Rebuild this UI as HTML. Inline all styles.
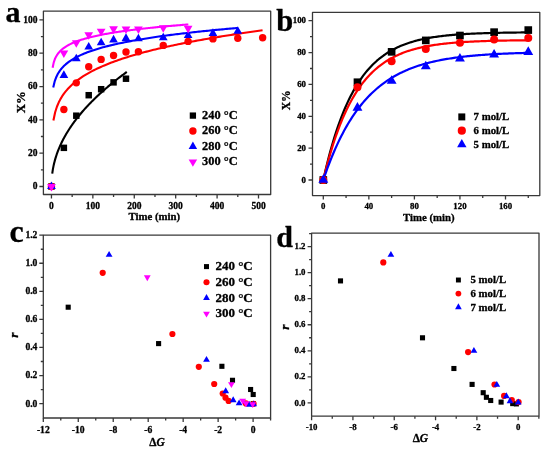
<!DOCTYPE html>
<html><head><meta charset="utf-8"><style>html,body{margin:0;padding:0;background:#fff;overflow:hidden;}svg{display:block;}</style></head>
<body>
<svg width="550" height="452" viewBox="0 0 550 452" font-family='"Liberation Serif", "Times New Roman", serif' font-weight="bold" stroke-linejoin="round">
<style>text{stroke:#000;stroke-width:0.3px;}</style>
<rect width="550" height="452" fill="#fff"/>
<rect x="43.4" y="11.2" width="227.3" height="183.3" fill="none" stroke="#383838" stroke-width="1.3"/>
<path d="M51.45 194.5v4M92.86 194.5v4M134.27 194.5v4M175.68 194.5v4M217.09 194.5v4M258.5 194.5v4M72.16 194.5v2.5M113.56 194.5v2.5M154.98 194.5v2.5M196.38 194.5v2.5M237.8 194.5v2.5M43.4 186.5h-4M43.4 153.18h-4M43.4 119.86h-4M43.4 86.54h-4M43.4 53.22h-4M43.4 19.9h-4M43.4 169.84h-2.5M43.4 136.52h-2.5M43.4 103.2h-2.5M43.4 69.88h-2.5M43.4 36.56h-2.5" stroke="#383838" stroke-width="1.3" fill="none"/>
<text x="51.45" y="209" font-size="9.5" text-anchor="middle">0</text>
<text x="92.86" y="209" font-size="9.5" text-anchor="middle">100</text>
<text x="134.27" y="209" font-size="9.5" text-anchor="middle">200</text>
<text x="175.68" y="209" font-size="9.5" text-anchor="middle">300</text>
<text x="217.09" y="209" font-size="9.5" text-anchor="middle">400</text>
<text x="258.5" y="209" font-size="9.5" text-anchor="middle">500</text>
<text x="37.6" y="189" font-size="9.5" text-anchor="end">0</text>
<text x="37.6" y="156" font-size="9.5" text-anchor="end">20</text>
<text x="37.6" y="123" font-size="9.5" text-anchor="end">40</text>
<text x="37.6" y="89" font-size="9.5" text-anchor="end">60</text>
<text x="37.6" y="56" font-size="9.5" text-anchor="end">80</text>
<text x="37.6" y="23" font-size="9.5" text-anchor="end">100</text>
<polyline points="52.24,173.59 52.86,169.41 53.49,166.13 54.12,163.35 54.74,160.89 55.37,158.66 56,156.61 56.62,154.71 57.25,152.92 57.87,151.23 58.5,149.62 59.13,148.09 59.75,146.62 60.38,145.21 61.01,143.85 61.63,142.53 62.26,141.26 62.89,140.02 63.51,138.82 64.14,137.65 64.76,136.51 65.39,135.4 66.02,134.32 66.64,133.25 67.27,132.21 67.9,131.2 68.52,130.2 69.15,129.22 69.78,128.26 70.4,127.31 71.03,126.39 71.65,125.47 72.28,124.57 72.91,123.69 73.53,122.82 74.16,121.96 74.79,121.12 75.41,120.28 76.04,119.46 76.67,118.65 77.29,117.85 77.92,117.05 78.54,116.27 79.17,115.5 79.8,114.74 80.42,113.98 81.05,113.24 81.68,112.5 82.3,111.77 82.93,111.05 83.56,110.33 84.18,109.63 84.81,108.92 85.43,108.23 86.06,107.54 86.69,106.86 87.31,106.19 87.94,105.52 88.57,104.86 89.19,104.2 89.82,103.55 90.45,102.91 91.07,102.27 91.7,101.63 92.32,101 92.95,100.38 93.58,99.76 94.2,99.14 94.83,98.53 95.46,97.93 96.08,97.33 96.71,96.73 97.34,96.14 97.96,95.55 98.59,94.97 99.21,94.39 99.84,93.81 100.47,93.24 101.09,92.67 101.72,92.11 102.35,91.54 102.97,90.99 103.6,90.43 104.23,89.88 104.85,89.34 105.48,88.79 106.1,88.25 106.73,87.71 107.36,87.18 107.98,86.65 108.61,86.12 109.24,85.6 109.86,85.07 110.49,84.56 111.12,84.04 111.74,83.53 112.37,83.02 112.99,82.51 113.62,82 114.25,81.5 114.87,81 115.5,80.5 116.13,80.01 116.75,79.52 117.38,79.03 118.01,78.54 118.63,78.05 119.26,77.57 119.88,77.09 120.51,76.61 121.14,76.14 121.76,75.66 122.39,75.19 123.02,74.72 123.64,74.26 124.27,73.79 124.9,73.33 125.52,72.87 126.15,72.41 126.77,71.95" fill="none" stroke="#000000" stroke-width="2.1" stroke-linejoin="round" stroke-linecap="butt"/>
<polyline points="53.4,120.53 55.15,112.25 56.91,106.75 58.67,102.55 60.43,99.12 62.18,96.2 63.94,93.65 65.7,91.37 67.46,89.31 69.22,87.43 70.97,85.7 72.73,84.09 74.49,82.58 76.25,81.17 78,79.83 79.76,78.57 81.52,77.37 83.28,76.22 85.03,75.13 86.79,74.08 88.55,73.07 90.31,72.1 92.06,71.16 93.82,70.26 95.58,69.39 97.34,68.55 99.1,67.73 100.85,66.93 102.61,66.16 104.37,65.41 106.13,64.68 107.88,63.97 109.64,63.28 111.4,62.6 113.16,61.94 114.91,61.3 116.67,60.67 118.43,60.05 120.19,59.45 121.95,58.86 123.7,58.28 125.46,57.71 127.22,57.15 128.98,56.61 130.73,56.07 132.49,55.54 134.25,55.02 136.01,54.52 137.76,54.01 139.52,53.52 141.28,53.04 143.04,52.56 144.79,52.09 146.55,51.63 148.31,51.18 150.07,50.73 151.83,50.29 153.58,49.85 155.34,49.42 157.1,49 158.86,48.58 160.61,48.17 162.37,47.76 164.13,47.36 165.89,46.96 167.64,46.57 169.4,46.18 171.16,45.8 172.92,45.42 174.68,45.05 176.43,44.68 178.19,44.32 179.95,43.96 181.71,43.6 183.46,43.25 185.22,42.9 186.98,42.55 188.74,42.21 190.49,41.87 192.25,41.54 194.01,41.21 195.77,40.88 197.52,40.56 199.28,40.24 201.04,39.92 202.8,39.6 204.56,39.29 206.31,38.98 208.07,38.67 209.83,38.37 211.59,38.07 213.34,37.77 215.1,37.48 216.86,37.18 218.62,36.89 220.37,36.6 222.13,36.32 223.89,36.03 225.65,35.75 227.4,35.48 229.16,35.2 230.92,34.92 232.68,34.65 234.44,34.38 236.19,34.12 237.95,33.85 239.71,33.59 241.47,33.32 243.22,33.07 244.98,32.81 246.74,32.55 248.5,32.3 250.25,32.05 252.01,31.8 253.77,31.55 255.53,31.3 257.29,31.06 259.04,30.81 260.8,30.57 262.56,30.33" fill="none" stroke="#ff0000" stroke-width="2.1" stroke-linejoin="round" stroke-linecap="butt"/>
<polyline points="53.23,87.59 54.78,81.09 56.33,76.92 57.88,73.81 59.44,71.32 60.99,69.22 62.54,67.42 64.09,65.82 65.64,64.4 67.19,63.11 68.74,61.92 70.3,60.83 71.85,59.82 73.4,58.88 74.95,57.99 76.5,57.15 78.05,56.36 79.6,55.61 81.15,54.9 82.71,54.21 84.26,53.56 85.81,52.94 87.36,52.34 88.91,51.76 90.46,51.21 92.01,50.67 93.56,50.15 95.12,49.65 96.67,49.16 98.22,48.69 99.77,48.24 101.32,47.79 102.87,47.36 104.42,46.94 105.98,46.53 107.53,46.13 109.08,45.74 110.63,45.36 112.18,44.99 113.73,44.63 115.28,44.28 116.83,43.93 118.39,43.59 119.94,43.26 121.49,42.93 123.04,42.61 124.59,42.3 126.14,41.99 127.69,41.69 129.24,41.39 130.8,41.1 132.35,40.81 133.9,40.53 135.45,40.26 137,39.99 138.55,39.72 140.1,39.46 141.66,39.2 143.21,38.94 144.76,38.69 146.31,38.44 147.86,38.2 149.41,37.96 150.96,37.72 152.51,37.49 154.07,37.26 155.62,37.03 157.17,36.81 158.72,36.58 160.27,36.37 161.82,36.15 163.37,35.94 164.92,35.73 166.48,35.52 168.03,35.31 169.58,35.11 171.13,34.91 172.68,34.71 174.23,34.52 175.78,34.32 177.34,34.13 178.89,33.94 180.44,33.75 181.99,33.57 183.54,33.38 185.09,33.2 186.64,33.02 188.19,32.85 189.75,32.67 191.3,32.5 192.85,32.32 194.4,32.15 195.95,31.98 197.5,31.82 199.05,31.65 200.6,31.49 202.16,31.32 203.71,31.16 205.26,31 206.81,30.84 208.36,30.69 209.91,30.53 211.46,30.38 213.02,30.22 214.57,30.07 216.12,29.92 217.67,29.77 219.22,29.62 220.77,29.48 222.32,29.33 223.87,29.19 225.43,29.05 226.98,28.9 228.53,28.76 230.08,28.62 231.63,28.48 233.18,28.35 234.73,28.21 236.29,28.07 237.84,27.94" fill="none" stroke="#0000ff" stroke-width="2.1" stroke-linejoin="round" stroke-linecap="butt"/>
<polyline points="52.61,67.8 53.75,62.37 54.89,59.07 56.03,56.67 57.17,54.77 58.31,53.2 59.45,51.86 60.59,50.68 61.73,49.64 62.88,48.7 64.02,47.84 65.16,47.05 66.3,46.32 67.44,45.64 68.58,45.01 69.72,44.41 70.86,43.85 72,43.32 73.14,42.81 74.28,42.33 75.42,41.87 76.56,41.43 77.7,41.01 78.85,40.61 79.99,40.22 81.13,39.84 82.27,39.48 83.41,39.13 84.55,38.8 85.69,38.47 86.83,38.15 87.97,37.85 89.11,37.55 90.25,37.26 91.39,36.98 92.53,36.7 93.67,36.43 94.81,36.17 95.96,35.92 97.1,35.67 98.24,35.42 99.38,35.19 100.52,34.96 101.66,34.73 102.8,34.51 103.94,34.29 105.08,34.07 106.22,33.86 107.36,33.66 108.5,33.46 109.64,33.26 110.78,33.07 111.93,32.88 113.07,32.69 114.21,32.5 115.35,32.32 116.49,32.14 117.63,31.97 118.77,31.8 119.91,31.63 121.05,31.46 122.19,31.3 123.33,31.13 124.47,30.97 125.61,30.82 126.75,30.66 127.89,30.51 129.04,30.36 130.18,30.21 131.32,30.06 132.46,29.92 133.6,29.78 134.74,29.63 135.88,29.5 137.02,29.36 138.16,29.22 139.3,29.09 140.44,28.96 141.58,28.82 142.72,28.69 143.86,28.57 145.01,28.44 146.15,28.32 147.29,28.19 148.43,28.07 149.57,27.95 150.71,27.83 151.85,27.71 152.99,27.59 154.13,27.48 155.27,27.36 156.41,27.25 157.55,27.14 158.69,27.03 159.83,26.92 160.97,26.81 162.12,26.7 163.26,26.59 164.4,26.49 165.54,26.38 166.68,26.28 167.82,26.17 168.96,26.07 170.1,25.97 171.24,25.87 172.38,25.77 173.52,25.67 174.66,25.58 175.8,25.48 176.94,25.38 178.09,25.29 179.23,25.19 180.37,25.1 181.51,25.01 182.65,24.92 183.79,24.82 184.93,24.73 186.07,24.64 187.21,24.56 188.35,24.47" fill="none" stroke="#ff00ff" stroke-width="2.1" stroke-linejoin="round" stroke-linecap="butt"/>
<rect x="48.22" y="183.27" width="6.46" height="6.46" fill="#000000"/>
<rect x="60.64" y="144.62" width="6.46" height="6.46" fill="#000000"/>
<rect x="73.07" y="112.47" width="6.46" height="6.46" fill="#000000"/>
<rect x="85.49" y="91.97" width="6.46" height="6.46" fill="#000000"/>
<rect x="97.91" y="85.98" width="6.46" height="6.46" fill="#000000"/>
<rect x="110.33" y="79.14" width="6.46" height="6.46" fill="#000000"/>
<rect x="122.76" y="75.48" width="6.46" height="6.46" fill="#000000"/>
<circle cx="51.45" cy="186.5" r="3.7" fill="#ff0000"/>
<circle cx="63.87" cy="109.53" r="3.7" fill="#ff0000"/>
<circle cx="76.3" cy="82.87" r="3.7" fill="#ff0000"/>
<circle cx="88.72" cy="66.71" r="3.7" fill="#ff0000"/>
<circle cx="101.14" cy="59.38" r="3.7" fill="#ff0000"/>
<circle cx="113.56" cy="55.55" r="3.7" fill="#ff0000"/>
<circle cx="125.99" cy="52.05" r="3.7" fill="#ff0000"/>
<circle cx="138.41" cy="51.72" r="3.7" fill="#ff0000"/>
<circle cx="163.26" cy="45.39" r="3.7" fill="#ff0000"/>
<circle cx="188.1" cy="41.39" r="3.7" fill="#ff0000"/>
<circle cx="212.95" cy="38.89" r="3.7" fill="#ff0000"/>
<circle cx="237.8" cy="38.23" r="3.7" fill="#ff0000"/>
<circle cx="262.64" cy="37.73" r="3.7" fill="#ff0000"/>
<polygon points="51.45,181.45 47.08,189.02 55.82,189.02" fill="#0000ff"/>
<polygon points="63.87,70.33 59.5,77.9 68.24,77.9" fill="#0000ff"/>
<polygon points="76.3,53.67 71.93,61.24 80.67,61.24" fill="#0000ff"/>
<polygon points="88.72,42.01 84.35,49.58 93.09,49.58" fill="#0000ff"/>
<polygon points="101.14,37.68 96.77,45.25 105.51,45.25" fill="#0000ff"/>
<polygon points="113.56,34.85 109.19,42.42 117.94,42.42" fill="#0000ff"/>
<polygon points="125.99,33.35 121.62,40.92 130.36,40.92" fill="#0000ff"/>
<polygon points="138.41,33.68 134.04,41.25 142.78,41.25" fill="#0000ff"/>
<polygon points="163.26,32.68 158.89,40.25 167.63,40.25" fill="#0000ff"/>
<polygon points="188.1,30.51 183.73,38.08 192.47,38.08" fill="#0000ff"/>
<polygon points="212.95,28.35 208.58,35.92 217.32,35.92" fill="#0000ff"/>
<polygon points="237.8,26.18 233.43,33.75 242.17,33.75" fill="#0000ff"/>
<polygon points="51.45,191.55 47.08,183.98 55.82,183.98" fill="#ff00ff"/>
<polygon points="63.87,58.03 59.5,50.46 68.24,50.46" fill="#ff00ff"/>
<polygon points="76.3,47.87 71.93,40.3 80.67,40.3" fill="#ff00ff"/>
<polygon points="88.72,39.87 84.35,32.3 93.09,32.3" fill="#ff00ff"/>
<polygon points="101.14,36.21 96.77,28.64 105.51,28.64" fill="#ff00ff"/>
<polygon points="113.56,33.88 109.19,26.31 117.94,26.31" fill="#ff00ff"/>
<polygon points="125.99,34.04 121.62,26.47 130.36,26.47" fill="#ff00ff"/>
<polygon points="138.41,34.04 134.04,26.47 142.78,26.47" fill="#ff00ff"/>
<polygon points="163.26,32.71 158.89,25.14 167.63,25.14" fill="#ff00ff"/>
<polygon points="188.1,33.38 183.73,25.81 192.47,25.81" fill="#ff00ff"/>
<rect x="189.75" y="112.45" width="6.29" height="6.29" fill="#000000"/>
<text x="202.0" y="118.8" font-size="12.4">240 °C</text>
<circle cx="192.9" cy="131.05" r="3.7" fill="#ff0000"/>
<text x="202.0" y="134.25" font-size="12.4">260 °C</text>
<polygon points="192.9,141.59 188.65,148.96 197.16,148.96" fill="#0000ff"/>
<text x="202.0" y="149.7" font-size="12.4">280 °C</text>
<polygon points="192.9,166.86 188.65,159.49 197.16,159.49" fill="#ff00ff"/>
<text x="202.0" y="165.15" font-size="12.4">300 °C</text>
<text x="154.3" y="219.6" font-size="10.8" text-anchor="middle">Time (min)</text>
<text transform="translate(25.0 102.2) rotate(-90)" font-size="12.8" text-anchor="middle">X%</text>
<text x="5.5" y="22.3" font-size="30">a</text>
<rect x="312.5" y="12.4" width="227.3" height="183.2" fill="none" stroke="#383838" stroke-width="1.3"/>
<path d="M323.3 195.6v4M368.85 195.6v4M414.4 195.6v4M459.95 195.6v4M505.5 195.6v4M346.07 195.6v2.5M391.62 195.6v2.5M437.18 195.6v2.5M482.73 195.6v2.5M528.27 195.6v2.5M312.5 180h-4M312.5 148.14h-4M312.5 116.28h-4M312.5 84.42h-4M312.5 52.56h-4M312.5 20.7h-4M312.5 164.07h-2.5M312.5 132.21h-2.5M312.5 100.35h-2.5M312.5 68.49h-2.5M312.5 36.63h-2.5" stroke="#383838" stroke-width="1.3" fill="none"/>
<text x="323.3" y="209" font-size="8.8" text-anchor="middle">0</text>
<text x="368.85" y="209" font-size="8.8" text-anchor="middle">40</text>
<text x="414.4" y="209" font-size="8.8" text-anchor="middle">80</text>
<text x="459.95" y="209" font-size="8.8" text-anchor="middle">120</text>
<text x="505.5" y="209" font-size="8.8" text-anchor="middle">160</text>
<text x="306" y="183" font-size="8.8" text-anchor="end">0</text>
<text x="306" y="151" font-size="8.8" text-anchor="end">20</text>
<text x="306" y="119" font-size="8.8" text-anchor="end">40</text>
<text x="306" y="87" font-size="8.8" text-anchor="end">60</text>
<text x="306" y="55" font-size="8.8" text-anchor="end">80</text>
<text x="306" y="23" font-size="8.8" text-anchor="end">100</text>
<polyline points="323.3,180 324.68,173.9 326.05,168.05 327.43,162.44 328.8,157.06 330.18,151.9 331.55,146.96 332.93,142.22 334.31,137.68 335.68,133.32 337.06,129.14 338.43,125.14 339.81,121.3 341.18,117.62 342.56,114.09 343.94,110.71 345.31,107.47 346.69,104.36 348.06,101.38 349.44,98.52 350.81,95.78 352.19,93.15 353.56,90.63 354.94,88.22 356.32,85.9 357.69,83.68 359.07,81.56 360.44,79.52 361.82,77.56 363.19,75.68 364.57,73.89 365.95,72.16 367.32,70.51 368.7,68.93 370.07,67.41 371.45,65.95 372.82,64.56 374.2,63.22 375.58,61.93 376.95,60.7 378.33,59.52 379.7,58.39 381.08,57.31 382.45,56.27 383.83,55.27 385.21,54.32 386.58,53.4 387.96,52.52 389.33,51.68 390.71,50.87 392.08,50.1 393.46,49.36 394.83,48.65 396.21,47.96 397.59,47.31 398.96,46.68 400.34,46.08 401.71,45.51 403.09,44.95 404.46,44.43 405.84,43.92 407.22,43.43 408.59,42.96 409.97,42.52 411.34,42.09 412.72,41.68 414.09,41.28 415.47,40.9 416.85,40.54 418.22,40.19 419.6,39.86 420.97,39.54 422.35,39.24 423.72,38.94 425.1,38.66 426.48,38.39 427.85,38.13 429.23,37.88 430.6,37.65 431.98,37.42 433.35,37.2 434.73,36.99 436.11,36.79 437.48,36.6 438.86,36.41 440.23,36.23 441.61,36.06 442.98,35.9 444.36,35.75 445.73,35.6 447.11,35.45 448.49,35.32 449.86,35.18 451.24,35.06 452.61,34.94 453.99,34.82 455.36,34.71 456.74,34.6 458.12,34.5 459.49,34.4 460.87,34.31 462.24,34.22 463.62,34.13 464.99,34.05 466.37,33.97 467.75,33.89 469.12,33.82 470.5,33.75 471.87,33.68 473.25,33.62 474.62,33.56 476,33.5 477.38,33.44 478.75,33.39 480.13,33.33 481.5,33.28 482.88,33.24 484.25,33.19 485.63,33.15 487,33.1 488.38,33.06 489.76,33.02 491.13,32.99 492.51,32.95 493.88,32.92 495.26,32.88 496.63,32.85 498.01,32.82 499.39,32.79 500.76,32.77 502.14,32.74 503.51,32.71 504.89,32.69 506.26,32.67 507.64,32.64 509.02,32.62 510.39,32.6 511.77,32.58 513.14,32.56 514.52,32.54 515.89,32.53 517.27,32.51 518.65,32.49 520.02,32.48 521.4,32.46 522.77,32.45 524.15,32.44 525.52,32.42 526.9,32.41 528.27,32.4" fill="none" stroke="#000000" stroke-width="2.2" stroke-linejoin="round" stroke-linecap="butt"/>
<polyline points="323.3,180 324.68,174.35 326.05,168.94 327.43,163.74 328.8,158.75 330.18,153.96 331.55,149.36 332.93,144.95 334.31,140.72 335.68,136.65 337.06,132.76 338.43,129.01 339.81,125.42 341.18,121.98 342.56,118.67 343.94,115.5 345.31,112.45 346.69,109.53 348.06,106.72 349.44,104.03 350.81,101.45 352.19,98.97 353.56,96.59 354.94,94.31 356.32,92.12 357.69,90.01 359.07,87.99 360.44,86.06 361.82,84.2 363.19,82.41 364.57,80.7 365.95,79.06 367.32,77.48 368.7,75.97 370.07,74.52 371.45,73.12 372.82,71.79 374.2,70.5 375.58,69.27 376.95,68.09 378.33,66.96 379.7,65.87 381.08,64.82 382.45,63.82 383.83,62.86 385.21,61.93 386.58,61.05 387.96,60.2 389.33,59.38 390.71,58.6 392.08,57.85 393.46,57.13 394.83,56.43 396.21,55.77 397.59,55.13 398.96,54.52 400.34,53.93 401.71,53.37 403.09,52.83 404.46,52.31 405.84,51.81 407.22,51.33 408.59,50.87 409.97,50.43 411.34,50.01 412.72,49.61 414.09,49.22 415.47,48.84 416.85,48.48 418.22,48.14 419.6,47.81 420.97,47.49 422.35,47.19 423.72,46.9 425.1,46.62 426.48,46.35 427.85,46.09 429.23,45.84 430.6,45.61 431.98,45.38 433.35,45.16 434.73,44.95 436.11,44.75 437.48,44.56 438.86,44.37 440.23,44.19 441.61,44.02 442.98,43.86 444.36,43.7 445.73,43.55 447.11,43.4 448.49,43.26 449.86,43.13 451.24,43 452.61,42.88 453.99,42.76 455.36,42.65 456.74,42.54 458.12,42.44 459.49,42.34 460.87,42.24 462.24,42.15 463.62,42.06 464.99,41.97 466.37,41.89 467.75,41.81 469.12,41.74 470.5,41.67 471.87,41.6 473.25,41.53 474.62,41.47 476,41.41 477.38,41.35 478.75,41.29 480.13,41.24 481.5,41.19 482.88,41.14 484.25,41.09 485.63,41.04 487,41 488.38,40.96 489.76,40.92 491.13,40.88 492.51,40.84 493.88,40.81 495.26,40.77 496.63,40.74 498.01,40.71 499.39,40.68 500.76,40.65 502.14,40.62 503.51,40.59 504.89,40.57 506.26,40.54 507.64,40.52 509.02,40.5 510.39,40.47 511.77,40.45 513.14,40.43 514.52,40.41 515.89,40.39 517.27,40.38 518.65,40.36 520.02,40.34 521.4,40.33 522.77,40.31 524.15,40.3 525.52,40.28 526.9,40.27 528.27,40.26" fill="none" stroke="#ff0000" stroke-width="2.2" stroke-linejoin="round" stroke-linecap="butt"/>
<polyline points="323.3,180 324.68,175.95 326.05,172.04 327.43,168.24 328.8,164.57 330.18,161.01 331.55,157.57 332.93,154.23 334.31,151 335.68,147.87 337.06,144.83 338.43,141.9 339.81,139.06 341.18,136.3 342.56,133.64 343.94,131.05 345.31,128.55 346.69,126.13 348.06,123.79 349.44,121.51 350.81,119.31 352.19,117.18 353.56,115.12 354.94,113.12 356.32,111.19 357.69,109.31 359.07,107.5 360.44,105.74 361.82,104.04 363.19,102.39 364.57,100.79 365.95,99.25 367.32,97.75 368.7,96.3 370.07,94.89 371.45,93.53 372.82,92.22 374.2,90.94 375.58,89.71 376.95,88.51 378.33,87.35 379.7,86.23 381.08,85.14 382.45,84.09 383.83,83.07 385.21,82.08 386.58,81.13 387.96,80.2 389.33,79.3 390.71,78.44 392.08,77.6 393.46,76.78 394.83,75.99 396.21,75.23 397.59,74.49 398.96,73.77 400.34,73.08 401.71,72.41 403.09,71.76 404.46,71.13 405.84,70.52 407.22,69.92 408.59,69.35 409.97,68.8 411.34,68.26 412.72,67.74 414.09,67.24 415.47,66.75 416.85,66.28 418.22,65.82 419.6,65.38 420.97,64.95 422.35,64.53 423.72,64.13 425.1,63.74 426.48,63.36 427.85,63 429.23,62.65 430.6,62.3 431.98,61.97 433.35,61.65 434.73,61.34 436.11,61.04 437.48,60.74 438.86,60.46 440.23,60.19 441.61,59.92 442.98,59.67 444.36,59.42 445.73,59.18 447.11,58.94 448.49,58.72 449.86,58.5 451.24,58.29 452.61,58.08 453.99,57.88 455.36,57.69 456.74,57.5 458.12,57.32 459.49,57.15 460.87,56.98 462.24,56.82 463.62,56.66 464.99,56.5 466.37,56.35 467.75,56.21 469.12,56.07 470.5,55.93 471.87,55.8 473.25,55.68 474.62,55.55 476,55.43 477.38,55.32 478.75,55.21 480.13,55.1 481.5,55 482.88,54.89 484.25,54.8 485.63,54.7 487,54.61 488.38,54.52 489.76,54.43 491.13,54.35 492.51,54.27 493.88,54.19 495.26,54.11 496.63,54.04 498.01,53.97 499.39,53.9 500.76,53.83 502.14,53.77 503.51,53.71 504.89,53.65 506.26,53.59 507.64,53.53 509.02,53.47 510.39,53.42 511.77,53.37 513.14,53.32 514.52,53.27 515.89,53.22 517.27,53.18 518.65,53.13 520.02,53.09 521.4,53.05 522.77,53.01 524.15,52.97 525.52,52.93 526.9,52.9 528.27,52.86" fill="none" stroke="#0000ff" stroke-width="2.2" stroke-linejoin="round" stroke-linecap="butt"/>
<rect x="319.48" y="176.18" width="7.65" height="7.65" fill="#000000"/>
<rect x="353.64" y="78.41" width="7.65" height="7.65" fill="#000000"/>
<rect x="387.8" y="48.02" width="7.65" height="7.65" fill="#000000"/>
<rect x="421.96" y="36.58" width="7.65" height="7.65" fill="#000000"/>
<rect x="456.12" y="31.69" width="7.65" height="7.65" fill="#000000"/>
<rect x="490.29" y="28.33" width="7.65" height="7.65" fill="#000000"/>
<rect x="524.45" y="26.25" width="7.65" height="7.65" fill="#000000"/>
<circle cx="323.3" cy="180" r="4" fill="#ff0000"/>
<circle cx="357.46" cy="87.2" r="4" fill="#ff0000"/>
<circle cx="391.62" cy="61.28" r="4" fill="#ff0000"/>
<circle cx="425.79" cy="48.96" r="4" fill="#ff0000"/>
<circle cx="459.95" cy="42.8" r="4" fill="#ff0000"/>
<circle cx="494.11" cy="39.52" r="4" fill="#ff0000"/>
<circle cx="528.27" cy="37.92" r="4" fill="#ff0000"/>
<polygon points="323.3,174.29 318.36,182.85 328.25,182.85" fill="#0000ff"/>
<polygon points="357.46,102.09 352.52,110.65 362.41,110.65" fill="#0000ff"/>
<polygon points="391.62,75.13 386.68,83.69 396.57,83.69" fill="#0000ff"/>
<polygon points="425.79,60.73 420.84,69.29 430.73,69.29" fill="#0000ff"/>
<polygon points="459.95,52.89 455,61.45 464.89,61.45" fill="#0000ff"/>
<polygon points="494.11,49.05 489.17,57.61 499.06,57.61" fill="#0000ff"/>
<polygon points="528.27,46.33 523.33,54.89 533.22,54.89" fill="#0000ff"/>
<rect x="458.31" y="113.42" width="6.97" height="6.97" fill="#000000"/>
<text x="473.6" y="120.3" font-size="10.8">7 mol/L</text>
<circle cx="461.8" cy="130.7" r="4.1" fill="#ff0000"/>
<text x="473.6" y="134.1" font-size="10.8">6 mol/L</text>
<polygon points="461.8,139.06 457.09,147.22 466.51,147.22" fill="#0000ff"/>
<text x="473.6" y="147.9" font-size="10.8">5 mol/L</text>
<text x="428.8" y="221.3" font-size="10.8" text-anchor="middle">Time (min)</text>
<text transform="translate(289.6 100.3) rotate(-90)" font-size="11.6" text-anchor="middle">X%</text>
<text x="276.3" y="31" font-size="30.5">b</text>
<rect x="43.3" y="235.2" width="227.3" height="182.8" fill="none" stroke="#383838" stroke-width="1.3"/>
<path d="M43.3 418v4M78.27 418v4M113.23 418v4M148.2 418v4M183.17 418v4M218.13 418v4M253.1 418v4M60.78 418v2.5M95.75 418v2.5M130.72 418v2.5M165.68 418v2.5M200.65 418v2.5M235.62 418v2.5M270.58 418v2.5M43.3 403.6h-4M43.3 375.53h-4M43.3 347.47h-4M43.3 319.4h-4M43.3 291.33h-4M43.3 263.27h-4M43.3 235.2h-4M43.3 389.57h-2.5M43.3 361.5h-2.5M43.3 333.43h-2.5M43.3 305.37h-2.5M43.3 277.3h-2.5M43.3 249.23h-2.5" stroke="#383838" stroke-width="1.3" fill="none"/>
<text x="43.3" y="432.5" font-size="9.6" text-anchor="middle">-12</text>
<text x="78.27" y="432.5" font-size="9.6" text-anchor="middle">-10</text>
<text x="113.23" y="432.5" font-size="9.6" text-anchor="middle">-8</text>
<text x="148.2" y="432.5" font-size="9.6" text-anchor="middle">-6</text>
<text x="183.17" y="432.5" font-size="9.6" text-anchor="middle">-4</text>
<text x="218.13" y="432.5" font-size="9.6" text-anchor="middle">-2</text>
<text x="253.1" y="432.5" font-size="9.6" text-anchor="middle">0</text>
<text x="37.4" y="407" font-size="9.6" text-anchor="end">0.0</text>
<text x="37.4" y="378" font-size="9.6" text-anchor="end">0.2</text>
<text x="37.4" y="350" font-size="9.6" text-anchor="end">0.4</text>
<text x="37.4" y="322" font-size="9.6" text-anchor="end">0.6</text>
<text x="37.4" y="294" font-size="9.6" text-anchor="end">0.8</text>
<text x="37.4" y="266" font-size="9.6" text-anchor="end">1.0</text>
<text x="37.4" y="238" font-size="9.6" text-anchor="end">1.2</text>
<text x="9.5" y="242.3" font-size="32">c</text>
<text x="157.1" y="446.1" font-size="11.5" text-anchor="middle">&#916;<tspan font-style="italic">G</tspan></text>
<text transform="translate(17.6 335.2) rotate(-90)" font-size="13.5" font-style="italic" text-anchor="middle">r</text>
<rect x="65.65" y="304.65" width="5.1" height="5.1" fill="#000000"/>
<rect x="156.05" y="341.05" width="5.1" height="5.1" fill="#000000"/>
<rect x="219.35" y="363.75" width="5.1" height="5.1" fill="#000000"/>
<rect x="229.95" y="377.75" width="5.1" height="5.1" fill="#000000"/>
<rect x="248.05" y="386.95" width="5.1" height="5.1" fill="#000000"/>
<rect x="250.65" y="391.95" width="5.1" height="5.1" fill="#000000"/>
<rect x="250.65" y="401.05" width="5.1" height="5.1" fill="#000000"/>
<circle cx="102.7" cy="272.8" r="3.1" fill="#ff0000"/>
<circle cx="172.4" cy="334" r="3.1" fill="#ff0000"/>
<circle cx="198.8" cy="366.8" r="3.1" fill="#ff0000"/>
<circle cx="214.2" cy="384" r="3.1" fill="#ff0000"/>
<circle cx="222.7" cy="393.5" r="3.1" fill="#ff0000"/>
<circle cx="225.5" cy="397.7" r="3.1" fill="#ff0000"/>
<circle cx="228.6" cy="400.9" r="3.1" fill="#ff0000"/>
<circle cx="245.9" cy="403.4" r="3.1" fill="#ff0000"/>
<circle cx="253.6" cy="403.8" r="3.1" fill="#ff0000"/>
<polygon points="109.1,250.88 105.71,256.76 112.49,256.76" fill="#0000ff"/>
<polygon points="206.5,355.98 203.11,361.86 209.89,361.86" fill="#0000ff"/>
<polygon points="225.7,387.28 222.31,393.16 229.09,393.16" fill="#0000ff"/>
<polygon points="233.2,396.28 229.81,402.16 236.59,402.16" fill="#0000ff"/>
<polygon points="239.1,399.48 235.71,405.36 242.49,405.36" fill="#0000ff"/>
<polygon points="249.5,400.88 246.11,406.76 252.89,406.76" fill="#0000ff"/>
<polygon points="253.6,400.38 250.21,406.26 256.99,406.26" fill="#0000ff"/>
<polygon points="147.3,281.22 143.91,275.34 150.69,275.34" fill="#ff00ff"/>
<polygon points="231.4,388.12 228.01,382.24 234.79,382.24" fill="#ff00ff"/>
<polygon points="242.7,404.52 239.31,398.64 246.09,398.64" fill="#ff00ff"/>
<polygon points="245.9,407.22 242.51,401.34 249.29,401.34" fill="#ff00ff"/>
<polygon points="252.7,408.12 249.31,402.24 256.09,402.24" fill="#ff00ff"/>
<rect x="203.99" y="264.09" width="5.02" height="5.02" fill="#000000"/>
<text x="215.4" y="270.2" font-size="13">240 °C</text>
<circle cx="206.5" cy="282.3" r="3.05" fill="#ff0000"/>
<text x="215.4" y="285.9" font-size="13">260 °C</text>
<polygon points="206.5,294.08 203.11,299.96 209.89,299.96" fill="#0000ff"/>
<text x="215.4" y="301.6" font-size="13">280 °C</text>
<polygon points="206.5,317.62 203.11,311.74 209.89,311.74" fill="#ff00ff"/>
<text x="215.4" y="317.3" font-size="13">300 °C</text>
<rect x="311.6" y="233.1" width="227.4" height="183.1" fill="none" stroke="#383838" stroke-width="1.3"/>
<path d="M311.6 416.2v4M352.92 416.2v4M394.24 416.2v4M435.56 416.2v4M476.88 416.2v4M518.2 416.2v4M332.26 416.2v2.5M373.58 416.2v2.5M414.9 416.2v2.5M456.22 416.2v2.5M497.54 416.2v2.5M538.86 416.2v2.5M311.6 402.9h-4M311.6 376.85h-4M311.6 350.8h-4M311.6 324.75h-4M311.6 298.7h-4M311.6 272.65h-4M311.6 246.6h-4M311.6 389.88h-2.5M311.6 363.82h-2.5M311.6 337.77h-2.5M311.6 311.72h-2.5M311.6 285.67h-2.5M311.6 259.62h-2.5M311.6 233.57h-2.5" stroke="#383838" stroke-width="1.3" fill="none"/>
<text x="311.6" y="430" font-size="8.8" text-anchor="middle">-10</text>
<text x="352.92" y="430" font-size="8.8" text-anchor="middle">-8</text>
<text x="394.24" y="430" font-size="8.8" text-anchor="middle">-6</text>
<text x="435.56" y="430" font-size="8.8" text-anchor="middle">-4</text>
<text x="476.88" y="430" font-size="8.8" text-anchor="middle">-2</text>
<text x="518.2" y="430" font-size="8.8" text-anchor="middle">0</text>
<text x="305.5" y="406" font-size="8.8" text-anchor="end">0.0</text>
<text x="305.5" y="379" font-size="8.8" text-anchor="end">0.2</text>
<text x="305.5" y="353" font-size="8.8" text-anchor="end">0.4</text>
<text x="305.5" y="327" font-size="8.8" text-anchor="end">0.6</text>
<text x="305.5" y="301" font-size="8.8" text-anchor="end">0.8</text>
<text x="305.5" y="275" font-size="8.8" text-anchor="end">1.0</text>
<text x="305.5" y="249" font-size="8.8" text-anchor="end">1.2</text>
<text x="276.2" y="246.5" font-size="30">d</text>
<text x="420.4" y="442" font-size="11.5" text-anchor="middle">&#916;<tspan font-style="italic">G</tspan></text>
<text transform="translate(289.2 327.2) rotate(-90)" font-size="13.5" font-style="italic" text-anchor="middle">r</text>
<rect x="337.95" y="278.35" width="5.1" height="5.1" fill="#000000"/>
<rect x="419.95" y="335.25" width="5.1" height="5.1" fill="#000000"/>
<rect x="451.35" y="365.95" width="5.1" height="5.1" fill="#000000"/>
<rect x="469.55" y="381.85" width="5.1" height="5.1" fill="#000000"/>
<rect x="480.65" y="390.15" width="5.1" height="5.1" fill="#000000"/>
<rect x="483.85" y="394.75" width="5.1" height="5.1" fill="#000000"/>
<rect x="488.15" y="397.95" width="5.1" height="5.1" fill="#000000"/>
<rect x="498.55" y="399.55" width="5.1" height="5.1" fill="#000000"/>
<rect x="510.15" y="401.05" width="5.1" height="5.1" fill="#000000"/>
<rect x="513.85" y="401.35" width="5.1" height="5.1" fill="#000000"/>
<circle cx="383.3" cy="262.4" r="3.1" fill="#ff0000"/>
<circle cx="468.1" cy="352.1" r="3.1" fill="#ff0000"/>
<circle cx="494.5" cy="384.5" r="3.1" fill="#ff0000"/>
<circle cx="504.1" cy="395.9" r="3.1" fill="#ff0000"/>
<circle cx="511.8" cy="400" r="3.1" fill="#ff0000"/>
<circle cx="518.6" cy="402.1" r="3.1" fill="#ff0000"/>
<polygon points="390.9,250.98 387.51,256.86 394.29,256.86" fill="#0000ff"/>
<polygon points="473.9,346.88 470.51,352.76 477.29,352.76" fill="#0000ff"/>
<polygon points="496.8,380.88 493.41,386.76 500.19,386.76" fill="#0000ff"/>
<polygon points="506.4,392.28 503.01,398.16 509.79,398.16" fill="#0000ff"/>
<polygon points="510,397.38 506.61,403.26 513.39,403.26" fill="#0000ff"/>
<polygon points="518.2,398.58 514.81,404.46 521.59,404.46" fill="#0000ff"/>
<rect x="455.94" y="277.54" width="4.93" height="4.93" fill="#000000"/>
<text x="470.4" y="283.3" font-size="10.8">5 mol/L</text>
<circle cx="458.4" cy="293.6" r="2.9" fill="#ff0000"/>
<text x="470.4" y="296.9" font-size="10.8">6 mol/L</text>
<polygon points="458.4,303.35 455.06,309.13 461.73,309.13" fill="#0000ff"/>
<text x="470.4" y="310.5" font-size="10.8">7 mol/L</text>
</svg>
</body></html>
